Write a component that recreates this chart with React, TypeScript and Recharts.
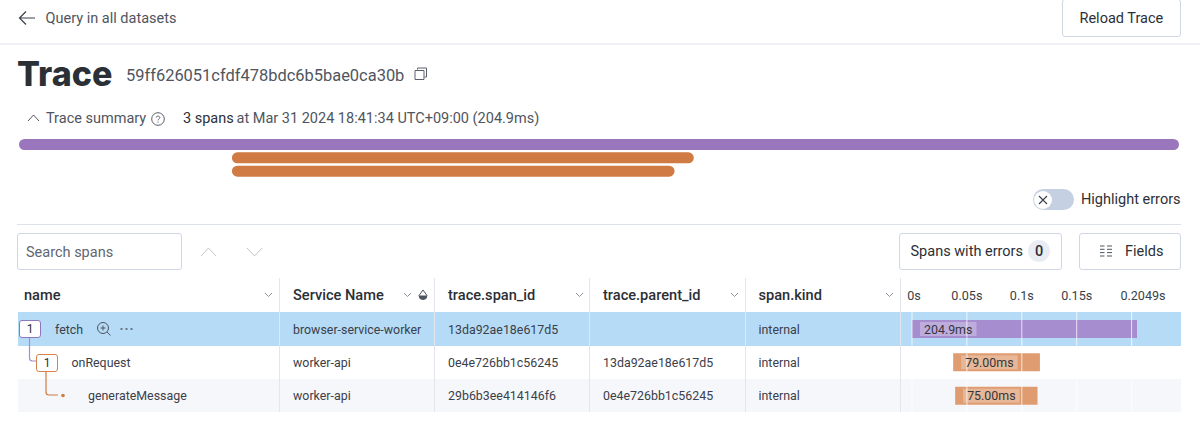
import React from 'react';
import { BarChart, Bar, Cell, XAxis, YAxis, ReferenceLine, LabelList } from 'recharts';

const traceMs = 204.9;

// summary bars at the top
const summaryNames = ['fetch', 'onRequest', 'generateMessage'];
const summaryStarts = [0, 37.6, 37.6];
const summaryEnds = [204.9, 119.2, 115.8];

// table rows
const spanNames = ['fetch', 'onRequest', 'generateMessage'];
const serviceNames = ['browser-service-worker', 'worker-api', 'worker-api'];
const spanIds = ['13da92ae18e617d5', '0e4e726bb1c56245', '29b6b3ee414146f6'];
const parentIds = ['', '13da92ae18e617d5', '0e4e726bb1c56245'];
const spanKinds = ['internal', 'internal', 'internal'];

// waterfall column
const waterfallStarts = [0, 37.5, 39.3];
const waterfallDurations = [204.9, 79, 75];
const waterfallLabels = ['204.9ms', '79.00ms', '75.00ms'];
const axisTicks = [0, 50, 100, 150, 204.9];
const axisLabels = ['0s', '0.05s', '0.1s', '0.15s', '0.2049s'];
const gridLines = [0, 50, 100, 150, 200];

const PURPLE = '#9a76bd';
const ORANGE = '#d07b43';
const PURPLE_SOFT = '#a58dcf';
const ORANGE_SOFT = '#df9c70';
const DARK = '#2b2f36';
const GREY = '#4f5560';
const BORDER = '#cfd6e4';
const FONT = 'Roboto, sans-serif';
const ROW_SIZE = 12.4;
const HEAD_SIZE = 14.6;

const summaryData = summaryNames.map((name, i) => ({ name, range: [summaryStarts[i], summaryEnds[i]] }));
const waterfallData = spanNames.map((name, i) => ({
  name,
  range: [waterfallStarts[i], waterfallStarts[i] + waterfallDurations[i]],
  label: waterfallLabels[i],
}));

const T: React.FC<{ x: number; y: number; size?: number; color?: string; weight?: number; family?: string; children: React.ReactNode }> = ({
  x, y, size = 14.5, color = GREY, weight = 400, family, children,
}) => (
  <div style={{ position: 'absolute', left: x, top: y - 11, height: 24, lineHeight: '24px', fontSize: size, color, fontWeight: weight, fontFamily: family, whiteSpace: 'nowrap' }}>
    {children}
  </div>
);

const Box: React.FC<{ x: number; y: number; w: number; h: number; style?: React.CSSProperties }> = ({ x, y, w, h, style }) => (
  <div style={{ position: 'absolute', left: x, top: y, width: w, height: h, boxSizing: 'border-box', ...style }} />
);

const AxisTick = ({ x, y, payload, index }: any) => (
  <text x={x + (index === 4 ? 6 : index === 0 ? 2 : 0)} y={y + 1.5} textAnchor="middle" fontSize={12.6} fontFamily={FONT} fill="#3a3f48">
    {axisLabels[axisTicks.indexOf(payload.value)]}
  </text>
);

const BarTag = ({ x, y, value }: any) => (
  <g>
    <rect x={x + 8} y={y + 2} width={56.5} height={14} fill="#ffffff" fillOpacity={0.28} />
    <text x={x + 12} y={y + 13.6} fontSize={ROW_SIZE} fontFamily={FONT} fill="#33363d">{value}</text>
  </g>
);

const columnX = [293, 448, 603, 758.5];
const separators = [278.5, 433.5, 589, 744.5, 899.5];
const carets = [268, 407, 579, 734, 889];
const rowTops = [312, 346, 379];
const rowCenters = [329, 362, 395];

const Caret: React.FC<{ x: number; y: number; w?: number; h?: number; up?: boolean; color?: string; sw?: number }> = ({
  x, y, w = 7, h = 3.5, up = false, color = '#8c929c', sw = 1,
}) => (
  <svg style={{ position: 'absolute', left: x - w / 2, top: y - h / 2, overflow: 'visible' }} width={w} height={h}>
    <path d={up ? `M0 ${h}L${w / 2} 0L${w} ${h}` : `M0 0L${w / 2} ${h}L${w} 0`} fill="none" stroke={color} strokeWidth={sw} />
  </svg>
);

const Badge: React.FC<{ x: number; y: number; color: string }> = ({ x, y, color }) => (
  <div style={{ position: 'absolute', left: x, top: y, width: 22, height: 18, boxSizing: 'border-box', border: `1.3px solid ${color}`, borderRadius: 3, background: '#fff', textAlign: 'center', fontSize: 12, lineHeight: '16px', color: DARK }}>
    1
  </div>
);

export default function App() {
  return (
    <div style={{ position: 'absolute', left: 0, top: 0, width: 1200, height: 442, overflow: 'hidden', background: '#fff', fontFamily: FONT }}>
      {/* top bar */}
      <svg style={{ position: 'absolute', left: 18, top: 10 }} width={18} height={16}>
        <path d="M1.5 8H17M8 1.5L1.5 8L8 14.5" fill="none" stroke="#3a3f48" strokeWidth={1.2} />
      </svg>
      <T x={45.5} y={18}>Query in all datasets</T>
      <Box x={1062} y={-1} w={119} h={38} style={{ border: `1px solid ${BORDER}`, borderRadius: 3 }} />
      <T x={1079.5} y={18} color={DARK}>Reload Trace</T>
      <Box x={0} y={43} w={1200} h={1.5} style={{ background: '#f0f1f5' }} />

      {/* title */}
      <T x={17} y={72.5} size={34} color={DARK} weight={800} family="Inter, sans-serif">Trace</T>
      <T x={126} y={75} size={16.45}>59ff626051cfdf478bdc6b5bae0ca30b</T>
      <svg style={{ position: 'absolute', left: 414, top: 67 }} width={14} height={14}>
        <path d="M3.5 2.5V1H12.5V10H10.5M1 3.5H10V12.5H1Z" fill="none" stroke="#5a606b" strokeWidth={1} />
      </svg>

      {/* summary line */}
      <Caret x={33.5} y={118} w={11} h={6} up color="#4f5560" />
      <T x={46} y={118}>Trace summary</T>
      <svg style={{ position: 'absolute', left: 151, top: 112 }} width={14} height={14}>
        <circle cx={7} cy={7} r={6.3} fill="none" stroke="#5a606b" strokeWidth={1} />
        <path d="M5.2 5.6C5.2 3.6 8.8 3.6 8.8 5.6C8.8 7 7 6.8 7 8.4M7 9.6V10.6" fill="none" stroke="#5a606b" strokeWidth={1} />
      </svg>
      <T x={183} y={118} color={DARK}>3 spans</T>
      <T x={236.5} y={118}>at Mar 31 2024 18:41:34 UTC+09:00 (204.9ms)</T>

      <div style={{ position: 'absolute', left: 19, top: 138 }}>
        <BarChart width={1160} height={40} layout="vertical" data={summaryData} margin={{ top: 0, right: 0, bottom: 0, left: 0 }} barCategoryGap={0}>
          <XAxis type="number" domain={[0, traceMs]} hide />
          <YAxis type="category" dataKey="name" hide />
          <Bar dataKey="range" barSize={11} radius={5.5} isAnimationActive={false}>
            {summaryData.map((d, i) => <Cell key={d.name} fill={i === 0 ? PURPLE : ORANGE} />)}
          </Bar>
        </BarChart>
      </div>

      {/* highlight errors */}
      <Box x={1032.5} y={189} w={41.5} h={21} style={{ background: '#c5d0e2', borderRadius: 11 }} />
      <Box x={1034} y={190.5} w={18} h={18} style={{ background: '#fff', borderRadius: 9 }} />
      <svg style={{ position: 'absolute', left: 1038, top: 194.5 }} width={10} height={10}>
        <path d="M1 1L9 9M9 1L1 9" stroke="#3a3f48" strokeWidth={1.1} />
      </svg>
      <T x={1081} y={199} color={DARK}>Highlight errors</T>
      <Box x={17} y={223.5} w={1164} h={1.5} style={{ background: '#dde1ea' }} />

      {/* toolbar */}
      <Box x={17} y={233} w={165} h={37} style={{ border: `1px solid ${BORDER}`, borderRadius: 3 }} />
      <T x={26} y={251.5} color="#5f6672">Search spans</T>
      <Caret x={208.5} y={251.5} w={15} h={8} up color="#c2c6ce" />
      <Caret x={254.5} y={251.5} w={15} h={8} color="#c2c6ce" />
      <Box x={899} y={233} w={163} h={37} style={{ border: `1px solid ${BORDER}`, borderRadius: 3 }} />
      <T x={910.5} y={251} color={DARK}>Spans with errors</T>
      <Box x={1028} y={240} w={22} h={22} style={{ background: '#e9ecf2', borderRadius: 11 }} />
      <T x={1035} y={251} color={DARK} weight={500}>0</T>
      <Box x={1078.5} y={233} w={102.5} h={37} style={{ border: `1px solid ${BORDER}`, borderRadius: 3 }} />
      <svg style={{ position: 'absolute', left: 1100, top: 245 }} width={12} height={13}>
        <path d="M0 1H4.5M7 1H12M0 4.3H4.5M7 4.3H12M0 7.6H4.5M7 7.6H12M0 11H4.5M7 11H12" stroke="#4f5560" strokeWidth={1} />
      </svg>
      <T x={1125} y={251} color={DARK}>Fields</T>

      {/* table */}
      <Box x={17.5} y={rowTops[0]} w={1163.5} h={34} style={{ background: '#b6dbf6' }} />
      <Box x={17.5} y={rowTops[2]} w={1163.5} h={33} style={{ background: '#f6f7fb' }} />
      {separators.map(x => (
        <Box key={x} x={x} y={278} w={1} h={134} style={{ background: '#e3e6ed' }} />
      ))}
      <T x={24} y={294} size={HEAD_SIZE} color={DARK} weight={500}>name</T>
      <T x={columnX[0]} y={294} size={HEAD_SIZE} color={DARK} weight={500}>Service Name</T>
      <T x={columnX[1]} y={294} size={HEAD_SIZE} color={DARK} weight={500}>trace.span_id</T>
      <T x={columnX[2]} y={294} size={HEAD_SIZE} color={DARK} weight={500}>trace.parent_id</T>
      <T x={columnX[3]} y={294} size={HEAD_SIZE} color={DARK} weight={500}>span.kind</T>
      {carets.map(x => <Caret key={x} x={x} y={295} />)}
      <svg style={{ position: 'absolute', left: 418, top: 289 }} width={10} height={12}>
        <path d="M5 1L9 6.5A4 4 0 0 1 1 6.5Z" fill="none" stroke="#4f5560" strokeWidth={1} />
        <path d="M1 6.5H9A4 4 0 0 1 1 6.5Z" fill="#4f5560" />
      </svg>

      {spanNames.map((n, i) => (
        <React.Fragment key={n}>
          <T x={[55, 71.5, 88][i]} y={rowCenters[i]} size={ROW_SIZE} color="#3b404a">{n}</T>
          <T x={columnX[0]} y={rowCenters[i]} size={ROW_SIZE} color="#3b404a">{serviceNames[i]}</T>
          <T x={columnX[1]} y={rowCenters[i]} size={ROW_SIZE} color="#3b404a">{spanIds[i]}</T>
          <T x={columnX[2]} y={rowCenters[i]} size={ROW_SIZE} color="#3b404a">{parentIds[i]}</T>
          <T x={columnX[3]} y={rowCenters[i]} size={ROW_SIZE} color="#3b404a">{spanKinds[i]}</T>
        </React.Fragment>
      ))}

      {/* tree connectors and row icons */}
      <svg style={{ position: 'absolute', left: 0, top: 0 }} width={140} height={420}>
        <path d="M29.5 337V358Q29.5 361 32.5 361H37" fill="none" stroke={PURPLE_SOFT} strokeWidth={1.2} />
        <path d="M46 371V392Q46 395 49 395H58" fill="none" stroke={ORANGE} strokeWidth={1.2} />
        <circle cx={63} cy={395.5} r={1.8} fill={ORANGE} />
        <circle cx={103} cy={328} r={5.5} fill="none" stroke="#4f5560" strokeWidth={1} />
        <path d="M107 332L110.5 335.5M100.5 328H105.5M103 325.5V330.5" fill="none" stroke="#4f5560" strokeWidth={1} />
        <path d="M120.5 329H122.5M125.5 329H127.5M130.5 329H132.5" stroke="#4f5560" strokeWidth={1.6} />
      </svg>
      <Badge x={19} y={320} color="#8f76c0" />
      <Badge x={36} y={354} color="#d2844f" />

      {/* waterfall */}
      <div style={{ position: 'absolute', left: 900, top: 278 }}>
        <BarChart width={281} height={134} layout="vertical" data={waterfallData} margin={{ top: 0, right: 44, bottom: 0, left: 12 }} barCategoryGap={0}>
          <XAxis type="number" orientation="top" height={34} domain={[0, traceMs]} ticks={axisTicks} interval={0} axisLine={false} tickLine={false} tick={<AxisTick />} tickMargin={8} />
          <YAxis type="category" dataKey="name" hide />
          <Bar dataKey="range" barSize={18} isAnimationActive={false}>
            {waterfallData.map((d, i) => <Cell key={d.name} fill={i === 0 ? PURPLE_SOFT : ORANGE_SOFT} />)}
            <LabelList dataKey="label" content={<BarTag />} />
          </Bar>
          {gridLines.map(v => (
            <ReferenceLine key={v} x={v} stroke="#ffffff" strokeOpacity={0.75} strokeWidth={1} />
          ))}
        </BarChart>
      </div>
    </div>
  );
}
